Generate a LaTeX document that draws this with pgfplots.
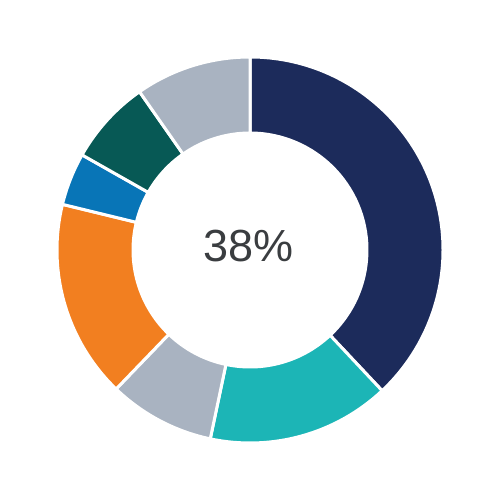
\documentclass[border=0pt]{standalone}
\usepackage{pgfplots}
\pgfplotsset{compat=1.18}
\usepackage{pgfplotstable}
\usepackage{fontspec}
\setmainfont{Liberation Sans}
\usepackage{xcolor}
\definecolor{sl0}{HTML}{1C2B5B}
\definecolor{sl1}{HTML}{1CB5B6}
\definecolor{sl2}{HTML}{A9B3C1}
\definecolor{sl3}{HTML}{F27F20}
\definecolor{sl4}{HTML}{0875B7}
\definecolor{sl5}{HTML}{075955}
\definecolor{sl6}{HTML}{A9B3C1}
\definecolor{txt}{HTML}{3A3D40}

% Anteile der Segmente (Prozent), im Uhrzeigersinn ab 12 Uhr
\pgfplotstableread{
share
38.0
15.3
8.9
16.6
4.4
7.1
9.7
}\donut

\begin{document}
\begin{tikzpicture}
    % Start- und Endwinkel vorab berechnen
    \def\cum{0}
    \pgfplotsforeachungrouped \i in {0,...,6} {%
        \pgfplotstablegetelem{\i}{share}\of\donut
        \let\sh\pgfplotsretval
        \pgfmathsetmacro\a{90-3.6*\cum}%
        \pgfmathsetmacro\cum{\cum+\sh}%
        \pgfmathsetmacro\b{90-3.6*\cum}%
        \expandafter\xdef\csname sa\i\endcsname{\a}%
        \expandafter\xdef\csname sb\i\endcsname{\b}%
    }
    \begin{axis}[
        scale only axis,
        width=10cm, height=10cm,
        xmin=-250, xmax=250,
        ymin=-250, ymax=250,
        axis lines=none,
        clip=false,
    ]
        \path (axis cs:-250,-250) rectangle (axis cs:250,250);
        \pgfplotsinvokeforeach{0,...,6}{
            \filldraw[fill=sl#1, draw=white, line width=0.06cm, line join=miter]
                ([shift={(axis cs:0,0)}]\csname sa#1\endcsname:3.86cm)
                arc[start angle=\csname sa#1\endcsname, end angle=\csname sb#1\endcsname, radius=3.86cm]
                -- ([shift={(axis cs:0,0)}]\csname sb#1\endcsname:2.34cm)
                arc[start angle=\csname sb#1\endcsname, end angle=\csname sa#1\endcsname, radius=2.34cm]
                -- cycle;
        }
        \node[text=txt, font=\fontsize{25.6}{30}\selectfont] at (axis cs:-1.5,4) {38\%};
    \end{axis}
\end{tikzpicture}
\end{document}
